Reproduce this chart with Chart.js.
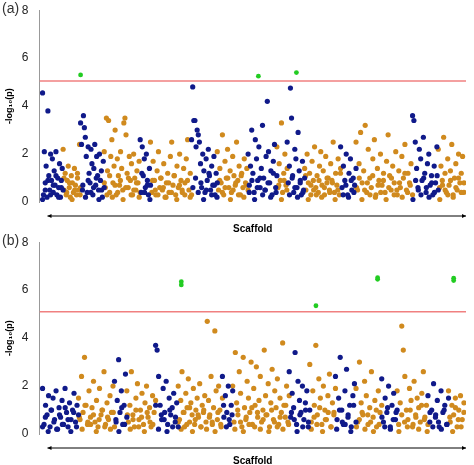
<!DOCTYPE html><html><head><meta charset="utf-8">
<script src="https://cdn.jsdelivr.net/npm/chart.js@4"></script>
<style>body{margin:0;background:#fff;font-family:Arial,"Liberation Sans",sans-serif}
.w{position:relative;width:474px;height:232px}.lab{position:absolute;left:2px;top:0;font-size:14px;color:#333}</style></head><body>
<div class="w"><canvas id="a"></canvas><div class="lab">(a)</div></div>
<div class="w"><canvas id="b"></canvas><div class="lab">(b)</div></div>
<script>
// segments: [startX, endX, values] ; colors alternate navy/gold
const segA=[
[0,20,[4.55,0.3,2.1,0.8,1.5,0.2,3.8,1.1,0.5,2.0,0.9,1.8,0.4,1.3,0.7,2.1,0.3,1.0,0.6,1.6,0.2,0.9,1.4,0.5]],
[20,37,[2.2,0.5,1.2,0.3,0.9,1.5,0.6,0.2,1.1,0.8,0.4,1.4,0.7,0.3,1.0,0.5,2.4,0.6]],
[37,60,[3.3,2.4,0.5,3.6,3.1,2.7,1.9,0.4,2.3,1.2,0.8,2.2,1.6,0.3,1.4,2.4,0.7,1.9,1.1,0.5,2.0,0.9,1.3,0.2,1.7,0.6]],
[60,95,[2.1,0.6,3.5,1.3,3.4,0.4,1.9,2.6,0.8,1.5,3.0,0.3,1.8,1.1,0.7,2.1,1.4,0.5,3.3,3.5,2.8,1.2,0.6,1.9,0.9,1.6,0.3,2.0,1.0,0.5,1.3,0.8,1.7,0.4]],
[95,105,[2.6,0.4,2.3,1.1,1.8,0.6,2.0,0.9,0.3,1.4,0.7]],
[105,145,[2.5,0.4,1.7,0.9,0.3,1.3,2.1,0.6,1.0,0.5,1.6,0.2,0.8,1.2,0.4,1.9,2.5,0.7,1.1,0.3,1.5,0.6,2.0,0.9,0.4,1.4,0.8,1.8,2.6,0.5,1.2,0.3]],
[145,170,[2.6,4.8,3.4,3.4,2.3,3.0,2.8,2.5,1.6,0.6,2.0,1.3,0.4,1.8,0.9,2.2,1.1,0.5,1.5,0.7,1.9,0.3,1.2,0.8]],
[170,200,[2.1,0.5,1.4,0.8,2.8,0.3,1.7,1.0,2.2,0.6,1.3,0.4,1.9,1.1,0.7,2.5,0.9,1.5,0.3,1.2,0.6,1.8,0.8,1.4,0.5]],
[200,228,[2.0,0.7,1.5,3.0,1.2,0.4,2.6,1.8,0.9,2.3,0.6,1.4,3.2,1.0,0.5,1.9,4.2,2.1,0.8,1.3,0.3,1.7,2.4,0.6,1.1]],
[228,238,[2.3,0.6,1.6,0.9,3.3,0.4,1.2,2.0,0.7,1.4]],
[238,255,[2.5,0.8,1.5,4.75,3.5,1.1,0.4,2.2,1.8,0.6,2.9,1.3,0.9,0.3,1.7,0.5,1.0]],
[255,290,[1.4,0.5,2.0,0.8,1.2,0.3,1.7,0.9,2.3,0.6,1.1,0.4,1.5,2.1,0.7,1.3,0.3,1.9,0.8,1.0,0.5,1.6,0.9,2.5,0.4,1.2,0.7,1.8,0.3,1.4]],
[290,305,[2.3,0.6,1.5,0.9,2.0,0.3,1.2,1.8,0.5,1.0,0.7,1.4]],
[305,360,[2.5,0.5,1.6,2.9,0.8,1.3,3.2,0.4,2.2,1.0,0.6,1.8,2.6,0.3,1.4,0.9,2.0,0.7,1.2,0.4,1.7,2.8,1.1,0.5,1.5,0.8,2.1,0.3,1.3,0.6,1.9,1.0,2.4,0.5,1.2,0.8,1.6,0.3]],
[360,385,[3.6,3.4,2.5,1.4,0.6,2.2,1.8,0.9,2.7,1.2,0.4,1.6,2.0,0.7,1.1,0.3,1.5,0.8,2.3,0.5]],
[385,410,[2.2,0.6,1.5,0.9,2.7,1.2,0.4,1.8,0.7,1.3,2.4,0.3,1.0,1.6,0.5,2.0,0.8,1.2,1.9,0.4]]
];
// dense background of low values (spread evenly over x)
const baseA=[0.1,0.5,0.9,0.3,0.7,1.1,0.2,0.6,1.0,0.4,0.8,0.1,0.5,1.2,0.3,0.7,0.2,0.9,0.4,0.6,1.0,0.1,0.5,0.8,0.3,1.1,0.2,0.7,0.4,0.9,0.1,0.6,1.0,0.3,0.5,0.8,0.2,1.2,0.4,0.7,0.1,0.9,0.5,0.3,1.0,0.6,0.2,0.8,0.4,1.1,0.1,0.7,0.5,0.3,0.9,0.2,0.6,1.0,0.4,0.8,0.1,0.5,1.2,0.3,0.7,0.2,0.9,0.4,0.6,1.0,0.1,0.5,0.8,0.3,1.1,0.2,0.7,0.4,0.9,0.1,0.6,1.0,0.3,0.5,0.8,0.2,1.2,0.4,0.7,0.1,0.9,0.5,0.3,1.0,0.6,0.2,0.8,0.4,1.1,0.1,0.7,0.5,0.3,0.9,0.2,0.6,1.0,0.4,0.8,0.1,0.5,1.2,0.3,0.7,0.2,0.9,0.4,0.6,1.0,0.1,0.5,0.8,0.3,1.1,0.2,0.7,0.4,0.9,0.1,0.6,1.0,0.3,0.5,0.8,0.2,1.2,0.4,0.7,0.1,0.9,0.5,0.3,1.0,0.6,0.2,0.8,0.4,1.1,0.1,0.7,0.5,0.3,0.9,0.2,0.6,1.0,0.4,0.8];
const hitsA=[[37,5.3],[210,5.25],[247,5.4]];
const threshA=5.05;
const segB=[
[0,35,[1.9,0.4,1.2,0.8,1.6,0.3,1.0,1.5,0.6,1.8,0.2,1.1,0.7,1.4,0.4,1.9,0.9,0.3,1.3,0.6,1.0,1.7,0.5,1.2,0.8]],
[35,70,[1.5,0.6,2.4,0.9,3.2,1.2,0.4,1.8,0.7,1.1,2.2,0.5,1.4,0.3,1.9,0.8,1.0,2.6,0.4,1.3,0.6,1.6,0.9,2.0,0.3]],
[70,82,[2.2,0.6,1.4,3.1,0.9,1.8,0.4,1.2,2.5,0.7]],
[82,110,[1.8,0.5,1.2,2.6,0.8,0.3,1.5,2.1,0.6,1.0,1.7,0.4,1.3,2.0,0.7,1.1,0.3,1.6,0.9,1.4]],
[110,132,[3.7,3.5,2.4,1.2,0.6,1.9,0.9,2.2,0.4,1.5,0.8,1.1,1.7,0.5,1.3,0.3]],
[132,175,[2.0,0.6,1.4,2.6,0.9,0.3,1.7,1.1,2.3,0.5,1.3,0.8,1.9,0.4,1.0,1.5,0.7,2.1,0.3,1.2,0.9,1.6,0.5,4.7,1.4,0.8,2.4,0.4,1.1,4.3,1.8,0.6,2.0,1.0,0.3,1.5]],
[175,185,[2.4,0.7,1.6,0.9,2.0,0.4,1.2,1.8]],
[185,240,[2.0,0.5,3.4,1.3,0.8,2.6,1.7,0.3,3.2,1.1,0.6,2.2,1.5,0.9,3.0,0.4,1.9,1.2,2.8,0.7,1.4,2.4,0.5,1.0,3.5,1.6,0.8,2.1,0.3,1.3,2.7,0.6,1.8,1.1,2.3,0.4,1.5,0.9,3.8,1.2,0.7,2.0,0.5,1.6]],
[240,260,[2.6,0.7,1.7,1.1,3.4,0.4,2.2,1.4,0.9,2.0,0.6,1.3,1.8,0.3,1.0]],
[260,285,[2.9,0.5,1.8,1.2,3.7,0.8,2.3,1.5,0.4,2.0,1.0,0.6,1.6,2.5,0.3,1.3,0.9,1.9]],
[285,305,[2.4,0.6,1.5,3.2,1.0,0.4,1.8,2.7,0.8,1.2,0.3,1.6,2.1,0.5]],
[305,330,[1.9,0.5,3.0,1.3,0.8,2.2,1.6,0.4,1.1,2.6,0.7,1.4,0.3,1.8,0.9,1.2]],
[330,345,[2.3,0.5,1.5,0.9,2.0,0.3,1.2,1.7,0.6,1.0]],
[345,375,[1.8,0.4,1.3,4.5,3.5,2.4,1.0,0.6,1.9,1.4,0.3,2.2,0.8,1.5,1.1,0.5,1.7,2.6,0.7,1.2,0.4]],
[375,395,[1.6,0.5,1.0,2.1,0.7,1.4,0.3,1.8,0.9,1.2,0.4,1.5]],
[395,410,[1.8,0.5,1.2,0.8,1.5,0.3,1.0,1.6,0.6,1.3]]
];
const baseB=[0.3,0.7,0.1,1.0,0.5,0.2,0.8,0.4,1.1,0.6,0.1,0.9,0.3,0.7,0.2,1.2,0.5,0.4,0.8,0.1,0.6,1.0,0.3,0.7,0.2,0.9,0.5,0.1,1.1,0.4,0.8,0.2,0.6,1.0,0.3,0.7,0.1,0.9,0.5,0.4,1.2,0.2,0.8,0.6,0.1,1.0,0.3,0.7,0.5,0.2,0.9,0.4,1.1,0.1,0.6,0.8,0.3,1.0,0.2,0.7,0.5,0.1,0.9,0.4,1.2,0.3,0.6,0.8,0.2,1.0,0.5,0.1,0.7,0.4,1.1,0.3,0.9,0.2,0.6,0.8,0.1,1.0,0.5,0.3,0.7,0.2,1.2,0.4,0.9,0.6,0.1,0.8,0.3,1.0,0.5,0.2,0.7,0.4,1.1,0.1,0.6,0.9,0.3,0.8,0.2,1.0,0.5,0.4,0.7,0.1,1.2,0.3,0.6,0.9,0.2,0.8,0.5,0.1,1.0,0.4,0.7,0.3,1.1,0.2,0.6,0.9,0.1,0.8,0.5,0.3,1.0,0.4,0.7,0.2,1.2,0.6,0.1,0.9,0.3,0.8,0.5,0.2,1.0,0.4,0.7,0.1,1.1,0.6,0.3,0.9];
const hitsB=[[135,6.35],[135,6.22],[266,5.35],[326,6.45],[326,6.52],[400,6.4],[400,6.5]];
const threshB=5.1;

const NAVY='#101a8a',GOLD='#d08a1e';
function pts(segs,base,parity){
  const out=segs.filter((s,i)=>i%2===parity).flatMap(([a,b,v])=>v.map((y,i)=>({x:a+(b-a)*(v.length>1?i/(v.length-1):0.5),y})));
  base.forEach((y,i)=>{const x=410*i/(base.length-1);const k=segs.findIndex(s=>x>=s[0]&&x<=s[1]);if(k%2===parity)out.push({x,y});});
  return out;}
const arrow={id:'arrow',afterDraw(c){const g=c.ctx,ca=c.chartArea,y=ca.bottom+14;g.save();g.strokeStyle='#000';g.fillStyle='#000';g.lineWidth=1;
g.beginPath();g.moveTo(ca.left+8,y);g.lineTo(ca.right,y);g.stroke();
g.beginPath();g.moveTo(ca.left+8,y);g.lineTo(ca.left+12,y-2);g.lineTo(ca.left+12,y+2);g.fill();
g.beginPath();g.moveTo(ca.right,y);g.lineTo(ca.right-4,y-2);g.lineTo(ca.right-4,y+2);g.fill();
g.font='bold 10px Arial';g.textAlign='center';g.fillText('Scaffold',(ca.left+ca.right)/2,y+16);g.restore();}};
function make(id,segs,base,hits,th){
new Chart(document.getElementById(id),{type:'scatter',data:{datasets:[
{data:[{x:-3,y:th},{x:412,y:th}],type:'line',borderColor:'#f08080',borderWidth:1.5,pointRadius:0},
{data:pts(segs,base,0),backgroundColor:NAVY,borderWidth:0,pointRadius:2.6},
{data:pts(segs,base,1),backgroundColor:GOLD,borderWidth:0,pointRadius:2.6},
{data:hits.map(([x,y])=>({x,y})),backgroundColor:'#22cc22',borderWidth:0,pointRadius:2.4}]},
options:{responsive:false,animation:false,layout:{padding:{top:8,right:8,bottom:30,left:0}},
plugins:{legend:{display:false},tooltip:{enabled:false}},
scales:{x:{type:'linear',min:-3,max:412,display:false},
y:{min:0,max:8,ticks:{stepSize:2,color:'#222',font:{size:12}},grid:{display:false,drawTicks:true},border:{color:'#999'},
title:{display:true,text:'-log₁₀(p)',font:{size:9,weight:'bold'},color:'#000'}}}},plugins:[arrow]});}
for(const id of ['a','b']){const c=document.getElementById(id);c.width=474;c.height=232;}
make('a',segA,baseA,hitsA,threshA);make('b',segB,baseB,hitsB,threshB);
</script></body></html>
